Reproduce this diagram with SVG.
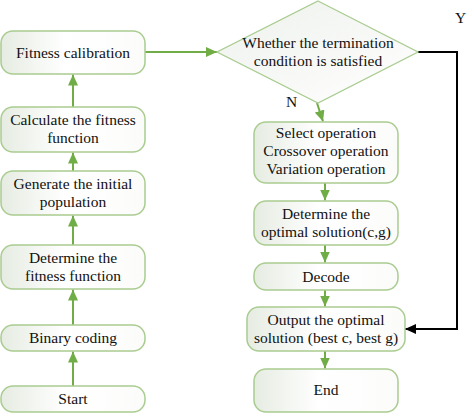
<svg xmlns="http://www.w3.org/2000/svg" width="474" height="416" viewBox="0 0 474 416">
  <style>
    .box { fill: url(#g); stroke: #a9cc90; stroke-width: 1.5; }
    .dia { fill: url(#gd); stroke: #a9cc90; stroke-width: 1.3; }
    text { font-family: 'Liberation Serif', 'DejaVu Serif', serif; font-size: 15.5px; fill: #111; }
    .t { text-anchor: middle; }
    .c { fill: none; stroke: #70ad47; stroke-width: 2; marker-end: url(#ag); }
    .k { fill: none; stroke: #000; stroke-width: 2; marker-end: url(#ak); }
  </style>
  <defs>
    <linearGradient id="g" x1="0" y1="0" x2="1" y2="0">
      <stop offset="0" stop-color="#e6ece2"/>
      <stop offset="0.45" stop-color="#ffffff"/>
      <stop offset="1" stop-color="#fbfcfa"/>
    </linearGradient>
    <linearGradient id="gd" x1="0" y1="0" x2="1" y2="1">
      <stop offset="0" stop-color="#eef1ec"/>
      <stop offset="1" stop-color="#ffffff"/>
    </linearGradient>
    <marker id="ag" markerUnits="userSpaceOnUse" markerWidth="12" markerHeight="10" refX="11" refY="5" orient="auto">
      <path d="M0,0 L11,5 L0,10 Z" fill="#70ad47"/>
    </marker>
    <marker id="ak" markerUnits="userSpaceOnUse" markerWidth="12" markerHeight="10" refX="11" refY="5" orient="auto">
      <path d="M0,0 L11,5 L0,10 Z" fill="#000"/>
    </marker>
  </defs>

  <g id="connectors">
    <path class="c" d="M73,386 L73,351.5"/>
    <path class="c" d="M73,325 L73,289.5"/>
    <path class="c" d="M73,245 L73,215.5"/>
    <path class="c" d="M73,171 L73,152.5"/>
    <path class="c" d="M73,107 L73,74.5"/>
    <path class="c" d="M145,52 L217,52"/>
    <path class="c" d="M317,103 L323,121.5"/>
    <path class="c" d="M325,183 L325,200.5"/>
    <path class="c" d="M325,245 L325,262.5"/>
    <path class="c" d="M325,290 L325,306.5"/>
    <path class="c" d="M325,351 L325,368.5"/>
    <path class="k" d="M418,52 L457,52 L457,329 L405,329"/>
    <text x="455" y="23" font-family="Liberation Serif, serif">Y</text>
    <text x="286" y="107" font-family="Liberation Serif, serif">N</text>
  </g>

  <g id="n-fitness-calibration">
    <rect class="box" x="1" y="31" width="144" height="43" rx="12"/>
    <text class="t" x="73" y="57.5">Fitness calibration</text>
  </g>
  <g id="n-calculate">
    <rect class="box" x="1" y="107" width="144" height="45" rx="12"/>
    <text class="t" x="73" y="125">Calculate the fitness</text>
    <text class="t" x="73" y="143">function</text>
  </g>
  <g id="n-generate">
    <rect class="box" x="1" y="171" width="144" height="44" rx="12"/>
    <text class="t" x="73" y="189">Generate the initial</text>
    <text class="t" x="73" y="207">population</text>
  </g>
  <g id="n-determine-fitness">
    <rect class="box" x="1" y="245" width="144" height="44" rx="12"/>
    <text class="t" x="73" y="263">Determine the</text>
    <text class="t" x="73" y="281">fitness function</text>
  </g>
  <g id="n-binary">
    <rect class="box" x="1" y="325" width="144" height="26" rx="12"/>
    <text class="t" x="73" y="343">Binary coding</text>
  </g>
  <g id="n-start">
    <rect class="box" x="1" y="386" width="144" height="26" rx="12"/>
    <text class="t" x="73" y="404">Start</text>
  </g>

  <g id="n-decision">
    <polygon class="dia" points="318,1 418,52 318,103 217,52"/>
    <text class="t" x="318" y="48">Whether the termination</text>
    <text class="t" x="318" y="66">condition is satisfied</text>
  </g>
  <g id="n-operations">
    <rect class="box" x="254" y="122" width="144" height="61" rx="12"/>
    <text class="t" x="326" y="138">Select operation</text>
    <text class="t" x="326" y="156">Crossover operation</text>
    <text class="t" x="326" y="174">Variation operation</text>
  </g>
  <g id="n-determine-optimal">
    <rect class="box" x="254" y="201" width="144" height="44" rx="12"/>
    <text class="t" x="326" y="219">Determine the</text>
    <text class="t" x="326" y="237">optimal solution(c,g)</text>
  </g>
  <g id="n-decode">
    <rect class="box" x="254" y="263" width="144" height="27" rx="12"/>
    <text class="t" x="326" y="281.5">Decode</text>
  </g>
  <g id="n-output">
    <rect class="box" x="247" y="307" width="158" height="44" rx="12"/>
    <text class="t" x="326" y="325">Output the optimal</text>
    <text class="t" x="326" y="343">solution (best c, best g)</text>
  </g>
  <g id="n-end">
    <rect class="box" x="254" y="369" width="144" height="43" rx="12"/>
    <text class="t" x="326" y="395">End</text>
  </g>
</svg>
